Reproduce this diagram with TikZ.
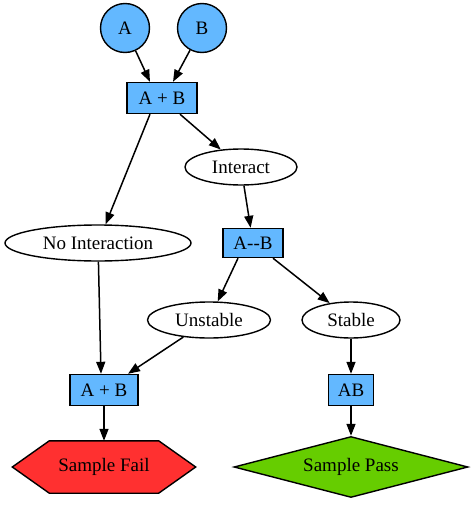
\documentclass[tikz,border=0pt]{standalone}
\usepackage{fontspec}
\setmainfont{Liberation Serif}
\usetikzlibrary{shapes.geometric,arrows.meta}
\definecolor{nodeblue}{HTML}{63B8FF}
\definecolor{failred}{HTML}{FF3030}
\definecolor{passgreen}{HTML}{66CD00}
\begin{document}
\begin{tikzpicture}[x=1pt,y=-1pt,
  every node/.style={font=\fontsize{19}{21}\selectfont, inner sep=0pt, line width=1.4pt},
  circ/.style={circle, draw, fill=nodeblue, minimum size=49pt},
  rectbox/.style={rectangle, draw, fill=nodeblue, minimum height=31pt},
  ell/.style={ellipse, draw, fill=white, minimum height=36pt},
  hexa/.style={rectangle, draw=none, minimum width=182pt, minimum height=51pt},
  dia/.style={diamond, draw, fill=passgreen, minimum width=234pt, minimum height=61pt, aspect=3.84},
  conn/.style={draw, line width=1.5pt, -{Triangle[length=12pt,width=9pt]}}
]
\useasboundingbox (0,0) rectangle (474,506);
\node[circ] (A) at (125,28) {A};
\node[circ] (B) at (202,28) {B};
\node[rectbox, minimum width=70pt] (AB1) at (162,98) {A + B};
\node[ell, minimum width=112pt] (Int) at (241,167) {Interact};
\node[ell, minimum width=186pt] (NoI) at (98,243) {No Interaction};
\node[rectbox, minimum width=60pt, minimum height=29pt] (AmB) at (253,243) {A-{}-B};
\node[ell, minimum width=123pt] (Uns) at (209,320) {Unstable};
\node[ell, minimum width=98pt] (Sta) at (351,320) {Stable};
\node[rectbox, minimum width=68pt] (AB2) at (104,390) {A + B};
\node[rectbox, minimum width=45pt] (ABn) at (351,390) {AB};
\node[hexa] (Fail) at (104,467) {};
\fill[failred, draw=black, line width=1.4pt]
  (Fail.west) -- ([xshift=37pt]Fail.north west) -- ([xshift=-37pt]Fail.north east)
  -- (Fail.east) -- ([xshift=-37pt]Fail.south east) -- ([xshift=37pt]Fail.south west) -- cycle;
\node at (Fail.center) {Sample Fail};
\node[dia] (Pass) at (351,467) {Sample Pass};
\draw[conn] (A) -- ([xshift=-12pt]AB1.north);
\draw[conn] (B) -- ([xshift=11pt]AB1.north);
\draw[conn] ([xshift=18pt]AB1.south) -- (Int);
\draw[conn] ([xshift=-12pt]AB1.south) -- (NoI);
\draw[conn] (Int) -- (AmB);
\draw[conn] ([xshift=-15pt]AmB.south) -- (Uns);
\draw[conn] ([xshift=20pt]AmB.south) -- (Sta);
\draw[conn] (NoI) -- ([xshift=-3pt]AB2.north);
\draw[conn] (Uns) -- ([xshift=24pt]AB2.north);
\draw[conn] (Sta) -- (ABn);
\draw[conn] (AB2) -- (Fail.north);
\draw[conn] (ABn) -- (Pass);
\end{tikzpicture}
\end{document}
